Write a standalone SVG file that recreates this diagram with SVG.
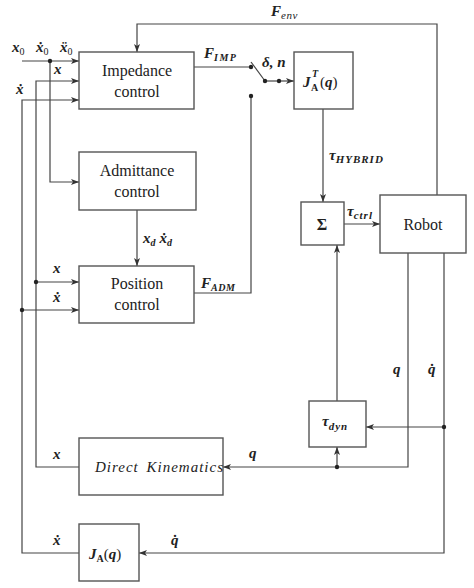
<svg xmlns="http://www.w3.org/2000/svg" width="474" height="588" viewBox="0 0 474 588">
<style>
.box{fill:#fff;stroke:#555;stroke-width:1.4}
.ln{fill:none;stroke:#444;stroke-width:1.2}
.arr{marker-end:url(#ah)}
.t{font-family:'Liberation Serif','DejaVu Serif','Times New Roman',serif;font-size:16px;fill:#222;text-anchor:middle}
.m{font-family:'Liberation Serif','DejaVu Serif','Times New Roman',serif;font-size:15px;font-style:italic;font-weight:bold;fill:#222}
.dot{fill:#222}
</style>
<defs>
<marker id="ah" markerUnits="userSpaceOnUse" markerWidth="9" markerHeight="7" refX="8" refY="3.5" orient="auto">
<path d="M0,0.5 L8,3.5 L0,6.5 L2,3.5 Z" fill="#333"/>
</marker>
</defs>
<g id="connectors">
<path class="ln arr" d="M22,61 H79"/>
<path class="ln arr" d="M50,61 V182 H79"/>
<path class="ln arr" d="M79,467 H36 V81 H79"/>
<path class="ln arr" d="M36,282 H79"/>
<path class="ln arr" d="M79,553 H22 V100 H79"/>
<path class="ln arr" d="M22,310 H79"/>
<path class="ln arr" d="M437,195 V24 H137 V52"/>
<path class="ln" d="M194,67 H251"/>
<path class="ln" d="M251,62 L265,81"/>
<path class="ln arr" d="M265,81 H294"/>
<path class="ln" d="M194,293 H251 V96"/>
<path class="ln arr" d="M137,210 V266"/>
<path class="ln arr" d="M323,109 V202"/>
<path class="ln arr" d="M344,224 H380"/>
<path class="ln arr" d="M408,253 V467 H223"/>
<path class="ln arr" d="M337,467 V447"/>
<path class="ln arr" d="M444,253 V553 H139"/>
<path class="ln arr" d="M444,427 H366"/>
<path class="ln arr" d="M337,401 V245"/>
<circle class="dot" cx="50" cy="61" r="2.2"/>
<circle class="dot" cx="36" cy="282" r="2.2"/>
<circle class="dot" cx="22" cy="310" r="2.2"/>
<circle class="dot" cx="251" cy="67" r="2.2"/>
<circle class="dot" cx="265" cy="81" r="2.2"/>
<circle class="dot" cx="279" cy="81" r="2.2"/>
<circle class="dot" cx="251" cy="96" r="2.2"/>
<circle class="dot" cx="337" cy="467" r="2.2"/>
<circle class="dot" cx="444" cy="427" r="2.2"/>
</g>
<g id="impedance">
<rect class="box" x="79" y="52" width="115" height="57"/>
<text class="t" x="137" y="76">Impedance</text>
<text class="t" x="137" y="97">control</text>
</g>
<g id="admittance">
<rect class="box" x="79" y="152" width="117" height="58"/>
<text class="t" x="137" y="176">Admittance</text>
<text class="t" x="137" y="197">control</text>
</g>
<g id="position">
<rect class="box" x="79" y="266" width="115" height="57"/>
<text class="t" x="137" y="289">Position</text>
<text class="t" x="137" y="310">control</text>
</g>
<g id="jat">
<rect class="box" x="294" y="52" width="59" height="57"/>
<text class="m" font-size="18"><tspan x="303" y="87">J</tspan><tspan x="312" y="77" font-size="10">T</tspan><tspan x="311" y="91" font-size="10" font-style="normal">A</tspan><tspan x="320" y="87" font-weight="normal" font-style="normal">(</tspan>q<tspan font-weight="normal" font-style="normal">)</tspan></text>
</g>
<g id="sigma">
<rect class="box" x="301" y="202" width="43" height="43"/>
<text class="t" x="322" y="230" font-weight="bold" font-size="17">Σ</text>
</g>
<g id="robot">
<rect class="box" x="380" y="195" width="86" height="58"/>
<text class="t" x="423" y="230" font-size="17">Robot</text>
</g>
<g id="tdyn">
<rect class="box" x="309" y="401" width="57" height="46"/>
<text class="m" x="322" y="426" font-weight="normal" font-size="17">τ<tspan font-size="11" dy="4" letter-spacing="1">dyn</tspan></text>
</g>
<g id="dk">
<rect class="box" x="79" y="438" width="144" height="57"/>
<text x="95" y="472" font-family="'Liberation Serif','DejaVu Serif',serif" font-style="italic" font-size="15" letter-spacing="1" word-spacing="3" fill="#222">Direct Kinematics</text>
</g>
<g id="ja">
<rect class="box" x="79" y="524" width="60" height="57"/>
<text class="m" x="89" y="559" font-size="16">J<tspan font-size="10" dy="3" font-style="normal">A</tspan><tspan dy="-3" font-weight="normal" font-style="normal">(</tspan>q<tspan font-weight="normal" font-style="normal">)</tspan></text>
</g>
<g id="labels">
<text class="m" x="12" y="52">x<tspan font-size="10" font-style="normal" font-weight="normal" dy="3">0</tspan></text>
<text class="m" x="36" y="52">ẋ<tspan font-size="10" font-style="normal" font-weight="normal" dy="3">0</tspan></text>
<text class="m" x="60" y="52">ẍ<tspan font-size="10" font-style="normal" font-weight="normal" dy="3">0</tspan></text>
<text class="m" x="54" y="74">x</text>
<text class="m" x="16" y="94">ẋ</text>
<text class="m" x="204" y="58">F<tspan font-size="10" dy="3" letter-spacing="1.5">IMP</tspan></text>
<text class="m" x="271" y="16">F<tspan font-size="11" dy="3" font-weight="normal" letter-spacing="0.5">env</tspan></text>
<text class="m" x="262" y="67" font-weight="normal">δ, n</text>
<text class="m" x="329" y="160" font-weight="normal" font-size="16">τ<tspan font-size="11" dy="3" letter-spacing="1">HYBRID</tspan></text>
<text class="m" x="347" y="216" font-weight="normal" font-size="16">τ<tspan font-size="11" dy="3" letter-spacing="1">ctrl</tspan></text>
<text class="m" x="143" y="243">x<tspan font-size="10" dy="3">d</tspan><tspan dx="4" dy="-3">ẋ</tspan><tspan font-size="10" dy="3">d</tspan></text>
<text class="m" x="53" y="273">x</text>
<text class="m" x="53" y="302">ẋ</text>
<text class="m" x="201" y="288">F<tspan font-size="10" dy="3" letter-spacing="0.5">ADM</tspan></text>
<text class="m" x="393" y="374">q</text>
<text class="m" x="428" y="374">q̇</text>
<text class="m" x="249" y="458">q</text>
<text class="m" x="53" y="459">x</text>
<text class="m" x="53" y="545">ẋ</text>
<text class="m" x="171" y="545">q̇</text>
</g>
</svg>
